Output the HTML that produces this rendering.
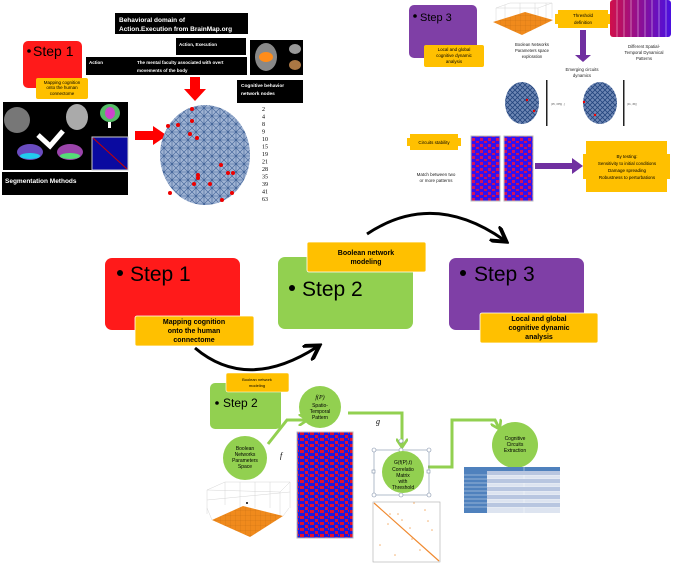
<!DOCTYPE html>
<html><head><meta charset="utf-8"><style>
body{margin:0;background:#fff;width:685px;height:565px;overflow:hidden;font-family:"Liberation Sans",sans-serif}
svg{display:block}
</style></head><body>
<svg width="685" height="565" viewBox="0 0 685 565" xmlns="http://www.w3.org/2000/svg" font-family="Liberation Sans, sans-serif">
<defs>
<pattern id="rb" width="10" height="6" patternUnits="userSpaceOnUse">
<rect width="10" height="6" fill="#1a1ae0"/><rect width="4" height="3" fill="#e01030"/><rect x="5" y="3" width="3" height="3" fill="#e01030"/><rect x="8" y="0" width="1" height="2" fill="#e01030"/>
</pattern>
<pattern id="rb2" width="8" height="6" patternUnits="userSpaceOnUse">
<rect width="8" height="6" fill="#3311ee"/><rect width="3" height="3" fill="#d01060"/><rect x="4" y="3" width="3" height="2" fill="#d01050"/>
</pattern>
<pattern id="net" width="8" height="8" patternUnits="userSpaceOnUse">
<rect width="8" height="8" fill="#9fb3d3"/><path d="M0 0L8 8M8 0L0 8M0 4H8M4 0V8" stroke="#3d5f95" stroke-width="0.6"/>
</pattern>
<pattern id="net2" width="5" height="5" patternUnits="userSpaceOnUse">
<rect width="5" height="5" fill="#6f88b5"/><path d="M0 0L5 5M5 0L0 5" stroke="#24457d" stroke-width="0.8"/>
</pattern>
<pattern id="grid" width="5" height="5" patternUnits="userSpaceOnUse">
<rect width="5" height="5" fill="#f08a1c"/><path d="M0 0H5M0 0V5" stroke="#c06a10" stroke-width="0.4"/>
</pattern>
<linearGradient id="stripes" x1="0" x2="1">
<stop offset="0" stop-color="#d0104a"/><stop offset="1" stop-color="#4a10e0"/>
</linearGradient>
<marker id="ah" markerWidth="6" markerHeight="6" refX="4" refY="3" orient="auto"><path d="M0,0 L5,3 L0,6" fill="none" stroke="#000" stroke-width="1.3"/></marker>
<marker id="gh" markerWidth="4" markerHeight="4" refX="2.5" refY="2" orient="auto"><path d="M0,0 L3,2 L0,4" fill="none" stroke="#92d050" stroke-width="0.9"/></marker>
</defs>

<!-- ===== TOP LEFT ===== -->
<rect x="23" y="41" width="59" height="47" rx="5" fill="#ff1a1a"/>
<circle cx="29" cy="51" r="1.8" fill="#000"/>
<text x="33" y="56" font-size="14">Step 1</text>
<rect x="36" y="78" width="52" height="21" rx="2" fill="#ffc000"/>
<text font-size="4.5" text-anchor="middle"><tspan x="62" y="84">Mapping cognition</tspan><tspan x="62" y="89">onto the human</tspan><tspan x="62" y="95">connectome</tspan></text>
<rect x="115" y="13" width="133" height="21" fill="#000"/>
<text fill="#fff" font-size="6.5" font-weight="bold"><tspan x="119" y="22">Behavioral domain of</tspan><tspan x="119" y="31">Action.Execution from BrainMap.org</tspan></text>
<rect x="176" y="38" width="70" height="17" fill="#000"/>
<text x="179" y="46" fill="#fff" font-size="4.5" font-weight="bold">Action, Execution</text>
<rect x="86" y="57" width="161" height="18" fill="#000"/>
<text fill="#fff" font-size="4.5" font-weight="bold"><tspan x="89" y="64">Action</tspan><tspan x="137" y="64">The mental faculty associated with overt</tspan><tspan x="137" y="72">movements of the body</tspan></text>
<rect x="250" y="40" width="53" height="35" fill="#000"/>
<ellipse cx="266" cy="57" rx="11" ry="14" fill="#888"/><ellipse cx="266" cy="57" rx="7" ry="5" fill="#ff8c1a"/>
<ellipse cx="295" cy="49" rx="6" ry="5" fill="#999"/><ellipse cx="295" cy="65" rx="6" ry="5" fill="#aa7744"/>
<rect x="237" y="80" width="66" height="23" fill="#000"/>
<text fill="#fff" font-size="4.8" font-weight="bold"><tspan x="241" y="87">Cognitive behavior</tspan><tspan x="241" y="95">network nodes</tspan></text>
<rect x="190" y="77" width="10" height="12" fill="#f00"/><path d="M184 89 L206 89 L195 101Z" fill="#f00"/>
<rect x="135" y="131" width="18" height="9" fill="#f00"/><path d="M153 126 L167 135.5 L153 145Z" fill="#f00"/>
<rect x="3" y="102" width="125" height="68" fill="#000"/>
<ellipse cx="17" cy="120" rx="13" ry="13" fill="#777"/><ellipse cx="77" cy="117" rx="11" ry="13" fill="#aaa"/>
<ellipse cx="110" cy="113" rx="10" ry="9" fill="#55bb66"/><ellipse cx="110" cy="113" rx="5" ry="6" fill="#cc44cc"/>
<path d="M38 135 L50 146 L63 131" fill="none" stroke="#fff" stroke-width="5"/>
<ellipse cx="30" cy="152" rx="13" ry="8" fill="#6a4cc0"/><ellipse cx="30" cy="156" rx="10" ry="3" fill="#22ccee"/>
<ellipse cx="70" cy="152" rx="13" ry="8" fill="#9a44aa"/><ellipse cx="70" cy="156" rx="10" ry="3" fill="#55dd77"/>
<rect x="92" y="137" width="36" height="33" fill="#0a0aa0" stroke="#ccc"/><path d="M93 138 L127 169" stroke="#c00" stroke-width="1"/>
<rect x="108" y="122" width="3" height="6" fill="#fff"/>
<rect x="2" y="172" width="126" height="23" fill="#000"/>
<text x="5" y="183" fill="#fff" font-size="6.5" font-weight="bold">Segmentation Methods</text>
<ellipse cx="205" cy="155" rx="45" ry="50" fill="url(#net)"/>
<g fill="#e00">
<circle cx="192" cy="109" r="2"/><circle cx="192" cy="121" r="2"/><circle cx="168" cy="126" r="2"/><circle cx="178" cy="125" r="2"/><circle cx="190" cy="134" r="2"/><circle cx="197" cy="138" r="2"/><circle cx="221" cy="165" r="2"/><circle cx="228" cy="173" r="2"/><circle cx="233" cy="173" r="2"/><circle cx="198" cy="175" r="2"/><circle cx="198" cy="178" r="2"/><circle cx="194" cy="184" r="2"/><circle cx="210" cy="184" r="2"/><circle cx="170" cy="193" r="2"/><circle cx="232" cy="193" r="2"/><circle cx="222" cy="200" r="2"/>
</g>
<text x="262" y="111" font-size="6" font-family="Liberation Serif, serif"><tspan x="262" dy="0">2</tspan><tspan x="262" dy="7.5">4</tspan><tspan x="262" dy="7.5">8</tspan><tspan x="262" dy="7.5">9</tspan><tspan x="262" dy="7.5">10</tspan><tspan x="262" dy="7.5">15</tspan><tspan x="262" dy="7.5">19</tspan><tspan x="262" dy="7.5">21</tspan><tspan x="262" dy="7.5">28</tspan><tspan x="262" dy="7.5">35</tspan><tspan x="262" dy="7.5">39</tspan><tspan x="262" dy="7.5">41</tspan><tspan x="262" dy="7.5">63</tspan></text>

<!-- ===== TOP RIGHT ===== -->
<rect x="409" y="5" width="68" height="53" rx="5" fill="#7f3fa6"/>
<circle cx="415" cy="16" r="1.8" fill="#000"/>
<text x="420" y="21" font-size="11">Step 3</text>
<rect x="424" y="45" width="60" height="22" rx="2" fill="#ffc000"/>
<text font-size="4.5" text-anchor="middle"><tspan x="454" y="51">Local and global</tspan><tspan x="454" y="57">cognitive dynamic</tspan><tspan x="454" y="63">analysis</tspan></text>
<g stroke="#ccc" stroke-width="0.4" fill="none"><path d="M496 8 L510 3 L552 3 L538 8Z M496 8V22 M538 8V26 M552 3V18 M505 5V20 M520 3V20 M535 3V20 M546 3V20"/></g>
<path d="M493 22 L525 12 L553 20 L522 35Z" fill="url(#grid)"/>
<text font-size="4.2" text-anchor="middle" fill="#222"><tspan x="532" y="46">Boolean Networks</tspan><tspan x="532" y="52">Parameters space</tspan><tspan x="532" y="58">exploration</tspan></text>
<path d="M555 14 L558 14 L558 10 L608 10 L608 14 L611 14 L611 24 L608 24 L608 28 L558 28 L558 24 L555 24Z" fill="#ffc000"/>
<text font-size="4.5" text-anchor="middle"><tspan x="583" y="17">Threshold</tspan><tspan x="583" y="24">definition</tspan></text>
<rect x="610" y="0" width="61" height="37" rx="3" fill="url(#stripes)"/>
<g stroke="#fff" stroke-width="0.6" opacity="0.7"><path d="M617 0V37M624 0V37M631 0V37M638 0V37M645 0V37M652 0V37M659 0V37M666 0V37"/></g>
<text font-size="4.3" text-anchor="middle" fill="#222"><tspan x="644" y="48">Different Spatial-</tspan><tspan x="644" y="54">Temporal Dynamical</tspan><tspan x="644" y="60">Patterns</tspan></text>
<rect x="580" y="30" width="6" height="26" fill="#7030a0"/><path d="M575 55 L591 55 L583 62Z" fill="#7030a0"/>
<text font-size="4.3" text-anchor="middle" fill="#222"><tspan x="582" y="71">Emerging circuits</tspan><tspan x="582" y="77">dynamics</tspan></text>
<ellipse cx="522" cy="103" rx="17" ry="21" fill="url(#net2)"/>
<ellipse cx="600" cy="103" rx="17" ry="21" fill="url(#net2)"/>
<circle cx="527" cy="100" r="1.2" fill="#e00"/><circle cx="534" cy="111" r="1.2" fill="#e00"/><circle cx="584" cy="102" r="1.2" fill="#e00"/><circle cx="595" cy="115" r="1.2" fill="#e00"/>
<rect x="546" y="80" width="1.5" height="46" fill="#222"/><rect x="623" y="80" width="1.5" height="46" fill="#222"/>
<text x="551" y="105" font-size="2.6" fill="#555">{35, 155}] , [</text><text x="627" y="105" font-size="2.6" fill="#555">{31, 45}]</text>
<path d="M407 138 L410 138 L410 134 L458 134 L458 138 L461 138 L461 146 L458 146 L458 150 L410 150 L410 146 L407 146Z" fill="#ffc000"/>
<text x="434" y="144" font-size="4.5" text-anchor="middle">Circuits stability</text>
<text font-size="4.5" text-anchor="middle" fill="#222"><tspan x="436" y="176">Match between two</tspan><tspan x="436" y="182">or more patterns</tspan></text>
<rect x="471" y="136" width="29" height="65" fill="url(#rb2)" stroke="#bbb"/>
<rect x="504" y="136" width="29" height="65" fill="url(#rb2)" stroke="#bbb"/>
<rect x="535" y="163" width="38" height="6" fill="#7030a0"/><path d="M572 158 L583 166 L572 174Z" fill="#7030a0"/>
<path d="M583 154 L586 154 L586 141 L667 141 L667 154 L670 154 L670 179 L667 179 L667 192 L586 192 L586 179 L583 179Z" fill="#ffc000"/>
<text font-size="4.5" text-anchor="middle"><tspan x="627" y="158">By testing:</tspan><tspan x="627" y="165">Sensitivity to initial conditions</tspan><tspan x="627" y="172">Damage spreading</tspan><tspan x="627" y="179">Robustness to perturbations</tspan></text>

<!-- ===== MIDDLE ===== -->
<path d="M367 234 Q433 190 504 240" fill="none" stroke="#000" stroke-width="3" marker-end="url(#ah)"/>
<path d="M195 348 Q247 392 317 347" fill="none" stroke="#000" stroke-width="3" marker-end="url(#ah)"/>
<rect x="105" y="258" width="135" height="72" rx="7" fill="#ff1a1a"/>
<circle cx="120" cy="273" r="3" fill="#000"/>
<text x="130" y="281" font-size="21">Step 1</text>
<rect x="135" y="316" width="119" height="30" rx="2" fill="#ffc000" stroke="#fff" stroke-width="0.8"/>
<text font-size="7" font-weight="bold" text-anchor="middle"><tspan x="194" y="324">Mapping cognition</tspan><tspan x="194" y="333">onto the human</tspan><tspan x="194" y="342">connectome</tspan></text>
<rect x="278" y="257" width="135" height="72" rx="7" fill="#92d050"/>
<circle cx="292" cy="288" r="3" fill="#000"/>
<text x="302" y="296" font-size="21">Step 2</text>
<rect x="307" y="242" width="119" height="30" rx="2" fill="#ffc000" stroke="#fff" stroke-width="0.8"/>
<text font-size="7" font-weight="bold" text-anchor="middle"><tspan x="366" y="255">Boolean network</tspan><tspan x="366" y="264">modeling</tspan></text>
<rect x="449" y="258" width="135" height="72" rx="7" fill="#7f3fa6"/>
<circle cx="463" cy="273" r="3" fill="#000"/>
<text x="474" y="281" font-size="21">Step 3</text>
<rect x="480" y="313" width="118" height="30" rx="2" fill="#ffc000" stroke="#fff" stroke-width="0.8"/>
<text font-size="7" font-weight="bold" text-anchor="middle"><tspan x="539" y="321">Local and global</tspan><tspan x="539" y="330">cognitive dynamic</tspan><tspan x="539" y="339">analysis</tspan></text>

<!-- ===== BOTTOM ===== -->
<rect x="210" y="383" width="71" height="46" rx="5" fill="#92d050"/>
<circle cx="217" cy="403" r="1.8" fill="#000"/>
<text x="223" y="407" font-size="12">Step 2</text>
<rect x="226" y="373" width="63" height="19" rx="2" fill="#ffc000" stroke="#fff" stroke-width="0.6"/>
<text font-size="4" text-anchor="middle"><tspan x="257" y="381">Boolean network</tspan><tspan x="257" y="387">modeling</tspan></text>
<g fill="none" stroke="#92d050" stroke-width="3">
<path d="M268 444 L287 420 L306 420" marker-end="url(#gh)"/>
<path d="M348 413 L402 413 L402 446" marker-end="url(#gh)"/>
<path d="M428 467 L452 467 L452 420 L495 420 L499 428" marker-end="url(#gh)"/>
</g>
<circle cx="320" cy="407" r="21" fill="#92d050"/>
<text font-size="5" text-anchor="middle"><tspan x="320" y="399" font-style="italic" font-family="Liberation Serif, serif" font-size="6">f(P)</tspan><tspan x="320" y="407">Spatio-</tspan><tspan x="320" y="413">Temporal</tspan><tspan x="320" y="419">Pattern</tspan></text>
<circle cx="245" cy="458" r="22" fill="#92d050"/>
<text font-size="5" text-anchor="middle"><tspan x="245" y="450">Boolean</tspan><tspan x="245" y="456">Networks</tspan><tspan x="245" y="462">Parameters</tspan><tspan x="245" y="468">Space</tspan></text>
<text x="280" y="458" font-size="8" font-style="italic" font-family="Liberation Serif, serif">f</text>
<text x="376" y="424" font-size="8" font-style="italic" font-family="Liberation Serif, serif">g</text>
<rect x="297" y="432" width="56" height="106" fill="url(#rb)" stroke="#bbb"/>
<rect x="374" y="450" width="55" height="45" fill="none" stroke="#7f8fa8" stroke-width="0.6"/>
<g fill="#fff" stroke="#7f8fa8" stroke-width="0.6"><circle cx="374" cy="450" r="2"/><circle cx="401" cy="450" r="2"/><circle cx="429" cy="450" r="2"/><circle cx="374" cy="495" r="2"/><circle cx="401" cy="495" r="2"/><circle cx="429" cy="495" r="2"/><rect x="372" y="470" width="3" height="3"/><rect x="427" y="470" width="3" height="3"/><circle cx="401" cy="441" r="2"/></g>
<circle cx="403" cy="472" r="21" fill="#92d050"/>
<text font-size="5" text-anchor="middle"><tspan x="403" y="464">G(f(P),t)</tspan><tspan x="403" y="471">Correlatio</tspan><tspan x="403" y="477">Matrix</tspan><tspan x="403" y="483">with</tspan><tspan x="403" y="489">Threshold</tspan></text>
<circle cx="515" cy="445" r="23" fill="#92d050"/>
<text font-size="5" text-anchor="middle"><tspan x="515" y="440">Cognitive</tspan><tspan x="515" y="446">Circuits</tspan><tspan x="515" y="452">Extraction</tspan></text>
<!-- 3d plot -->
<g stroke="#ccc" stroke-width="0.4" fill="none"><path d="M207 490 L225 482 L290 482 L280 492 Z M207 490V514 M280 492V516 M290 482V508 M225 482V505 M240 482V508 M255 482V508 M270 482V508 M207 500 L290 492 M207 508 L212 520 M289 508 L283 516"/></g>
<path d="M212 520 L243 506 L283 516 L250 537Z" fill="url(#grid)"/>
<circle cx="247" cy="503" r="1" fill="#000"/>
<!-- corr matrix -->
<rect x="373" y="502" width="67" height="60" fill="#fff" stroke="#aaa" stroke-width="0.6"/>
<path d="M374 503 L439 561" stroke="#f08a30" stroke-width="1.2"/>
<g fill="#f4b070"><circle cx="390" cy="514" r="0.8"/><circle cx="398" cy="514" r="0.8"/><circle cx="402" cy="520" r="0.8"/><circle cx="388" cy="524" r="0.8"/><circle cx="410" cy="528" r="0.8"/><circle cx="425" cy="510" r="0.8"/><circle cx="432" cy="530" r="0.8"/><circle cx="380" cy="545" r="0.8"/><circle cx="395" cy="555" r="0.8"/><circle cx="420" cy="550" r="0.8"/><circle cx="412" cy="539" r="0.8"/><circle cx="428" cy="521" r="0.8"/><circle cx="414" cy="503" r="0.8"/></g>
<!-- table -->
<rect x="464" y="467" width="96" height="46" fill="#dde4f0"/>
<rect x="464" y="467" width="96" height="4" fill="#4f81bd"/>
<rect x="464" y="467" width="23" height="46" fill="#4f81bd"/>
<g stroke="#fff" stroke-width="0.4"><path d="M464 475H560M464 479H560M464 483H560M464 487H560M464 491H560M464 495H560M464 499H560M464 503H560M464 507H560M524 467V513"/></g>
<g fill="#b8c6e0"><rect x="487" y="471" width="73" height="4"/><rect x="487" y="479" width="73" height="4"/><rect x="487" y="487" width="73" height="4"/><rect x="487" y="495" width="73" height="4"/><rect x="487" y="503" width="73" height="4"/></g>
</svg>
</body></html>
